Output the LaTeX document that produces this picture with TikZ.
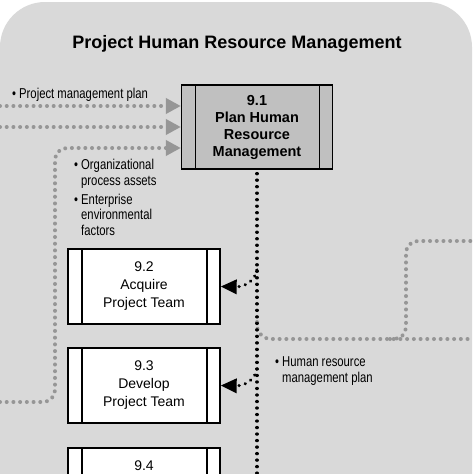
\documentclass[tikz,border=0pt]{standalone}
\usepackage{fontspec}
\setmainfont{Liberation Sans}
\newfontfamily\condensed[FakeStretch=0.79]{Liberation Sans}
\usetikzlibrary{arrows.meta}
\definecolor{panelgray}{RGB}{217,217,217}
\definecolor{flowgray}{RGB}{150,150,150}
\definecolor{plangray}{RGB}{192,192,192}

\begin{document}
\begin{tikzpicture}[
  x=1pt, y=-1pt,
  process/.style={draw, line width=1.3pt, fill=white, minimum width=152pt,
    minimum height=75pt, inner sep=0pt, align=center,
    font=\fontsize{14}{18}\selectfont,
    path picture={\draw[line width=1.3pt]
      ([xshift=14pt]path picture bounding box.north west) -- ([xshift=14pt]path picture bounding box.south west)
      ([xshift=-13pt]path picture bounding box.north east) -- ([xshift=-13pt]path picture bounding box.south east);}},
  flow/.style={flowgray, line width=4pt, line cap=round, dash pattern=on 0.01pt off 6.7pt},
  hrm/.style={black, line width=3.4pt, line cap=round, dash pattern=on 0.01pt off 6.5pt},
  item/.style={font=\condensed\fontsize{14.3}{15.5}\selectfont, align=left,
    anchor=base west, inner sep=0pt}
]
  \useasboundingbox (0,0) rectangle (474,474);
  \clip (0,0) rectangle (474,474);
  \fill[panelgray, rounded corners=45pt] (0,2) rectangle (472,540);

  \node[font=\bfseries\fontsize{18}{20}\selectfont, anchor=base] (title) at (237,48)
    {Project Human Resource Management};

  \node[process, fill=plangray, minimum width=151pt, minimum height=84pt,
    font=\bfseries\fontsize{14.5}{17}\selectfont] (p91) at (257,127)
    {9.1\\Plan Human\\Resource\\Management};
  \node[process] (p92) at (144,286.5) {9.2\\Acquire\\Project Team};
  \node[process] (p93) at (144,385.5) {9.3\\Develop\\Project Team};
  \node[process] (p94) at (144,485.5) {9.4\\\phantom{Manage}\\\phantom{Project Team}};

  \coordinate (pmp) at (0,106);
  \coordinate (ext) at (0,127);
  \coordinate (opa) at (0,402);
  \coordinate (opaTurn) at (55,148);
  \draw[flow,-{Triangle[length=15pt,width=15pt]}] (pmp) -- ([yshift=21pt]p91.west);
  \draw[flow,-{Triangle[length=15pt,width=15pt]}] (ext) -- (p91.west);
  \draw[flow,rounded corners=12pt,-{Triangle[length=15pt,width=15pt]}]
    (opa) -| (opaTurn) -- ([yshift=-21pt]p91.west);

  \coordinate (hrmEnd) at (257,478);
  \coordinate (tap2) at (257,270);
  \coordinate (tap3) at (257,369);
  \coordinate (tapOut) at (257,322);
  \coordinate (merge) at (390,339);
  \coordinate (out1) at (474,339);
  \coordinate (out2) at (474,241);
  \draw[flow, rounded corners=14pt] (tapOut) |- (out1);
  \draw[flow, rounded corners=12pt] (merge) -| (406,241) -- (out2);
  \draw[hrm] ([yshift=-4pt]p91.south) -- (hrmEnd);
  \draw[hrm,-{Triangle[length=16pt,width=14pt]}] (tap2) .. controls (255,280) and (246,287) .. (p92.east);
  \draw[hrm,-{Triangle[length=16pt,width=14pt]}] (tap3) .. controls (255,379) and (246,386) .. (p93.east);

  \node[item] (pmpText) at (19,98) {\llap{\textbullet\hspace{3pt}}Project management plan};
  \node[item] (opaText) at (81,185) {\llap{\textbullet\hspace{3pt}}Organizational\\process assets};
  \node[item] (eefText) at (81,235) {\llap{\textbullet\hspace{3pt}}Enterprise\\environmental\\factors};
  \node[item] (hrmText) at (282,382) {\llap{\textbullet\hspace{3pt}}Human resource\\management plan};
\end{tikzpicture}
\end{document}
